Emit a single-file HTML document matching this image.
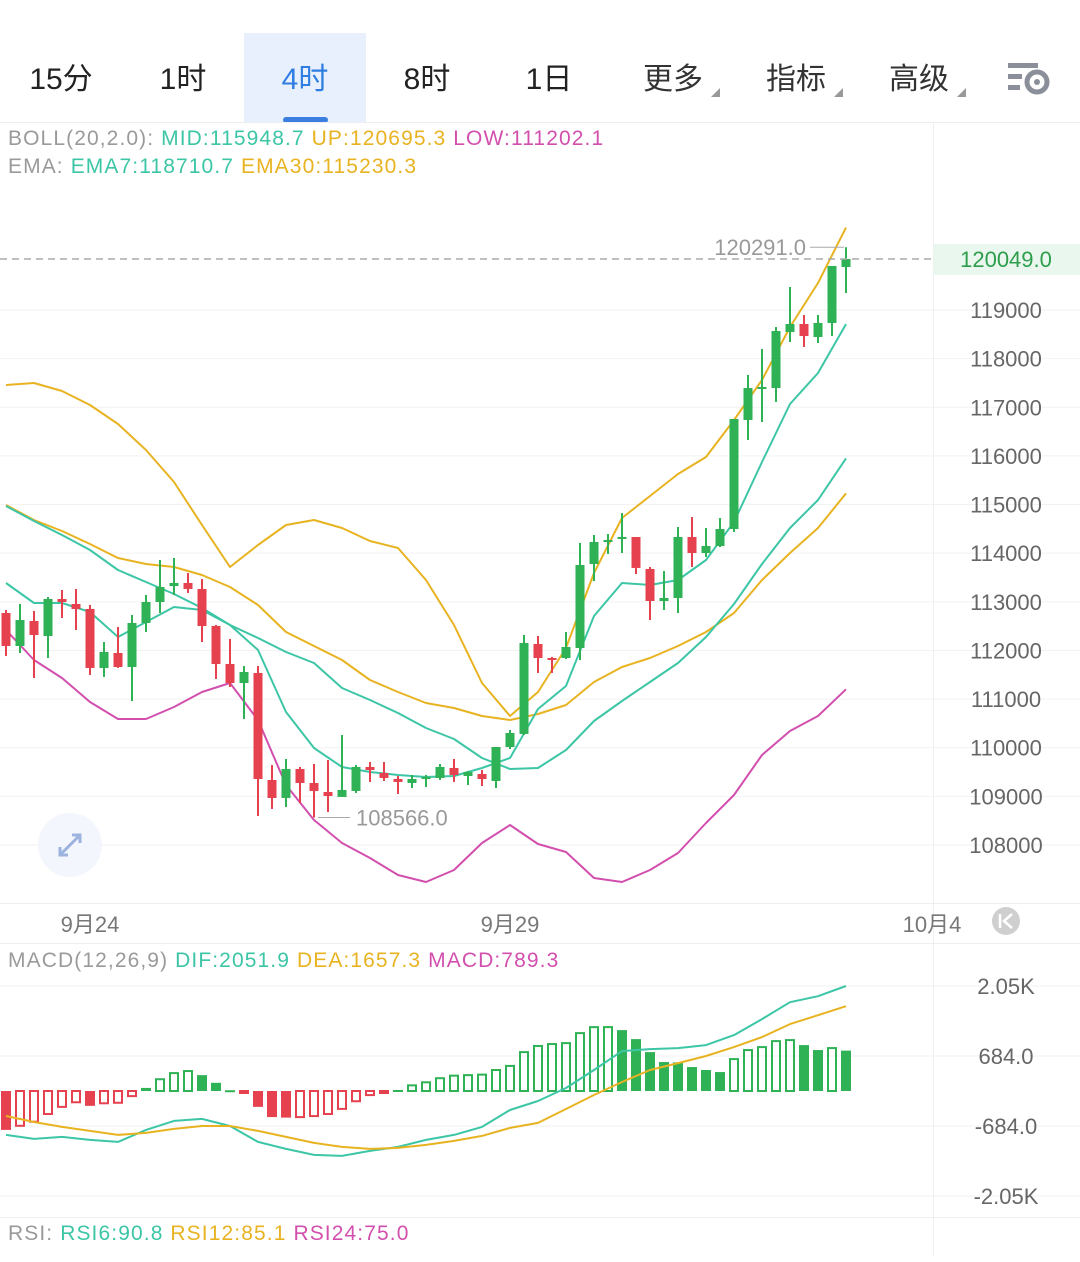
<!DOCTYPE html>
<html><head><meta charset="utf-8">
<style>
html,body{margin:0;padding:0;background:#fff;}
body{width:1080px;height:1257px;overflow:hidden;font-family:"Liberation Sans","Noto Sans CJK SC",sans-serif;}
svg text{font-family:"Liberation Sans","Noto Sans CJK SC",sans-serif;}
.lg{letter-spacing:1.1px;}
</style></head>
<body>
<svg id="chart" width="1080" height="1257" viewBox="0 0 1080 1257" xmlns="http://www.w3.org/2000/svg">
  <g>
    <rect x="244" y="33" width="122" height="89" fill="#e7f0fc"/>
    <rect x="283" y="117" width="45" height="6" rx="3" fill="#3a7fe0"/>
    <text x="61" y="89" font-size="30" fill="#222" text-anchor="middle">15分</text>
    <text x="183" y="89" font-size="30" fill="#222" text-anchor="middle">1时</text>
    <text x="305" y="89" font-size="30" fill="#2f7de1" text-anchor="middle">4时</text>
    <text x="427" y="89" font-size="30" fill="#222" text-anchor="middle">8时</text>
    <text x="549" y="89" font-size="30" fill="#222" text-anchor="middle">1日</text>
    <text x="673" y="89" font-size="30" fill="#333" text-anchor="middle">更多</text>
    <polygon points="720,88 720,97 711,97" fill="#999"/>
    <text x="796" y="89" font-size="30" fill="#333" text-anchor="middle">指标</text>
    <polygon points="843,88 843,97 834,97" fill="#999"/>
    <text x="919" y="89" font-size="30" fill="#333" text-anchor="middle">高级</text>
    <polygon points="966,88 966,97 957,97" fill="#999"/>
    <g>
      <rect x="1008" y="63" width="30" height="5" fill="#8a8f99"/>
      <rect x="1008" y="74" width="14" height="5" fill="#8a8f99"/>
      <rect x="1008" y="85" width="12" height="5" fill="#8a8f99"/>
      <circle cx="1037" cy="82" r="10" fill="none" stroke="#8a8f99" stroke-width="5"/>
      <circle cx="1037" cy="82" r="3" fill="#8a8f99"/>
    </g>
  </g>
  <line x1="0" y1="122.5" x2="1080" y2="122.5" stroke="#eee"/>
  <line x1="933.5" y1="122" x2="933.5" y2="1257" stroke="#f0f0f0"/>
  <text class="lg" x="8" y="145" font-size="21"><tspan fill="#9a9a9a">BOLL(20,2.0): </tspan><tspan fill="#3cc6a6">MID:115948.7 </tspan><tspan fill="#e8b321">UP:120695.3 </tspan><tspan fill="#d24fae">LOW:111202.1</tspan></text>
  <text class="lg" x="8" y="173" font-size="21"><tspan fill="#9a9a9a">EMA: </tspan><tspan fill="#3cc6a6">EMA7:118710.7 </tspan><tspan fill="#e8b321">EMA30:115230.3</tspan></text>

  <g id="price-grid"></g>
  <g id="price-axis"></g>
  <g id="lines"></g>
  <g id="candles"></g>

  <line id="curLine" x1="0" x2="933" stroke="#aaa" stroke-width="1.5" stroke-dasharray="7,5"/>
  <rect id="curBox" x="934" width="146" height="31" fill="#eaf7ee"/>
  <text id="curText" x="1006" font-size="22" fill="#2e9e4c" text-anchor="middle"></text>
  <g id="extremes"></g>

  <g>
    <circle cx="70" cy="845" r="32" fill="#f3f6fc"/>
    <path d="M60 855 L80 835 M72 835 L80 835 L80 843 M60 847 L60 855 L68 855" stroke="#9cb3df" stroke-width="3" fill="none"/>
  </g>

  <line x1="0" y1="903.5" x2="1080" y2="903.5" stroke="#eee"/>
  <text x="90" y="932" font-size="22" fill="#777" text-anchor="middle">9月24</text>
  <text x="510" y="932" font-size="22" fill="#777" text-anchor="middle">9月29</text>
  <text x="932" y="932" font-size="22" fill="#777" text-anchor="middle">10月4</text>
  <g>
    <circle cx="1006" cy="921" r="14" fill="#cfcfcf"/>
    <path d="M1000 914 L1000 928 M1012 914 L1004 921 L1012 928" stroke="#fff" stroke-width="2.5" fill="none"/>
  </g>
  <line x1="0" y1="943.5" x2="1080" y2="943.5" stroke="#eee"/>
  <text class="lg" x="8" y="967" font-size="21"><tspan fill="#9a9a9a">MACD(12,26,9) </tspan><tspan fill="#3cc6a6">DIF:2051.9 </tspan><tspan fill="#e8b321">DEA:1657.3 </tspan><tspan fill="#d24fae">MACD:789.3</tspan></text>
  <g id="macd-grid"></g>
  <g id="macd-bars"></g>
  <g id="macd-lines"></g>
  <line x1="0" y1="1217.5" x2="1080" y2="1217.5" stroke="#eee"/>
  <text class="lg" x="8" y="1240" font-size="21"><tspan fill="#9a9a9a">RSI: </tspan><tspan fill="#3cc6a6">RSI6:90.8 </tspan><tspan fill="#e8b321">RSI12:85.1 </tspan><tspan fill="#d24fae">RSI24:75.0</tspan></text>
</svg>
<script>
const candleOpen=[112770,112092,112606,112297,113058,112955,112853,111640,111948,111660,112565,112996,113325,113387,113264,112503,111722,111331,111537,109337,108967,109563,109275,109090,108988,109111,109604,109481,109357,109275,109378,109378,109584,109419,109460,109316,110015,110283,112133,111845,111845,112051,113778,114230,114292,114333,113675,113017,113079,114333,114004,114148,114497,116738,117376,117396,118548,118712,118445,118733,119884];
const candleClose=[112092,112626,112318,113058,112996,112853,111640,111968,111660,112565,112996,113305,113387,113264,112503,111722,111331,111557,109357,108967,109563,109275,109111,109008,109131,109604,109542,109378,109296,109357,109398,109604,109440,109501,109357,110015,110303,112154,111845,111825,112071,113757,114230,114271,114333,113696,113017,113079,114333,114004,114148,114497,116759,117396,117417,118568,118712,118465,118733,119905,120049];
const candleHigh=[112832,112955,112811,113099,113243,113264,112935,112174,112482,112729,113140,113860,113901,113593,113469,112524,112236,111681,111681,109645,109769,109604,109666,109748,110262,109645,109707,109707,109419,109440,109440,109666,109769,109522,109542,110015,110365,112318,112297,111866,112380,114210,114374,114395,114826,114333,113716,113634,114538,114744,114518,114724,116759,117664,118198,118650,119473,118897,118897,119905,120291];
const candleLow=[111886,111948,111434,111845,112668,112421,111496,111454,111640,110961,112380,112770,113140,113182,112174,111413,111249,110591,108597,108741,108782,108864,108566,108679,108987,109070,109296,109316,109049,109172,109193,109337,109296,109234,109213,109172,109974,110262,111537,111537,111825,111804,113428,113983,114004,113572,112626,112832,112770,113716,113922,114127,114436,116327,116697,117108,118342,118239,118322,118465,119350];
const bollUp=[117458,117499,117335,117047,116656,116122,115464,114580,113716,114168,114580,114682,114518,114251,114107,113449,112524,111331,110653,111146,112051,113593,114724,115176,115628,115978,116738,117561,118650,119555,120695];
const bollMid=[114970,114662,114374,114066,113654,113408,113161,112873,112524,112256,111968,111742,111228,110982,110714,110406,110180,109789,109563,109584,109954,110550,110961,111352,111742,112277,112955,113778,114518,115094,115949];
const bollLow=[112421,111804,111434,110940,110591,110591,110838,111146,111331,110570,109234,108514,108042,107733,107384,107240,107486,108042,108412,108021,107856,107322,107240,107486,107836,108453,109028,109851,110344,110653,111202];
const ema7=[113387,112976,112976,112791,112277,112585,112894,112832,112524,112010,110735,109995,109604,109501,109440,109398,109419,109584,109789,110797,111269,112709,113387,113346,113449,113860,114641,115875,117067,117705,118711];
const ema30=[114991,114682,114456,114189,113901,113778,113716,113552,113305,112935,112380,112092,111804,111393,111146,110920,110817,110653,110570,110694,110879,111352,111660,111845,112092,112380,112770,113449,114004,114518,115230];
const priceTicks=[119000,118000,117000,116000,115000,114000,113000,112000,111000,110000,109000,108000];
const macdHist=[-760,-680,-600,-450,-310,-220,-290,-240,-230,-100,60,230,350,390,310,160,15,-15,-310,-510,-520,-510,-490,-450,-350,-200,-80,-15,20,110,170,250,300,310,320,410,490,760,880,917,936,1131,1248,1249,1190,1014,760,566,560,468,410,370,624,800,858,975,995,897,800,839,789];
const macdDif=[-858,-936,-897,-956,-995,-761,-585,-546,-683,-995,-1131,-1248,-1268,-1170,-1092,-956,-858,-702,-371,-195,59,410,780,819,839,897,1092,1404,1736,1853,2052];
const macdDea=[-488,-605,-702,-780,-858,-819,-741,-683,-683,-780,-897,-1014,-1092,-1131,-1112,-1053,-975,-878,-722,-624,-351,-78,176,410,546,683,858,1053,1307,1482,1657];
const macdTicks=[2052,684,-684,-2052];
const macdTickLabels=["2.05K","684.0","-684.0","-2.05K"];
const currentPrice=120049;

const NS="http://www.w3.org/2000/svg";
const xScale=i=>6+14*i;
const yPrice=p=>310+(119000-p)*0.048636;
const yMacd=v=>1091-v/19.54;
function mk(tag,attrs,parent){const e=document.createElementNS(NS,tag);for(const k in attrs)e.setAttribute(k,attrs[k]);parent.appendChild(e);return e;}
const G=id=>document.getElementById(id);
const GREEN="#2fb155",RED="#e5414f";

priceTicks.forEach(t=>{
  const y=yPrice(t);
  const l=mk('line',{x1:0,x2:1080,y1:y,y2:y,stroke:'#f2f2f2'},G('price-grid'));
  
  
  const tx=mk('text',{x:1006,y:y+8,'font-size':22,fill:'#666','text-anchor':'middle'},G('price-axis'));
  tx.textContent=String(t);
  
  
});

function drawLine(arr,color,name,group,yf){
  const pts=arr.map((v,k)=>xScale(2*k)+','+yf(v).toFixed(1)).join(' ');
  const pl=mk('polyline',{points:pts,fill:'none',stroke:color,'stroke-width':2,'stroke-linejoin':'round'},G(group));
  
  
}
drawLine(bollUp,'#e8b321','boll-up-line','lines',yPrice);
drawLine(ema30,'#e8b321','ema30-line','lines',yPrice);
drawLine(bollMid,'#3cc6a6','boll-mid-line','lines',yPrice);
drawLine(ema7,'#3cc6a6','ema7-line','lines',yPrice);
drawLine(bollLow,'#d24fae','boll-low-line','lines',yPrice);

candleOpen.forEach((o,i)=>{
  const c=candleClose[i],h=candleHigh[i],l=candleLow[i];
  const col=c>=o?GREEN:RED;const x=xScale(i);
  const g=mk('g',{},G('candles'));
  
  
  mk('line',{x1:x,x2:x,y1:yPrice(h),y2:yPrice(l),stroke:col,'stroke-width':2},g);
  const top=yPrice(Math.max(o,c)),bot=yPrice(Math.min(o,c));
  mk('rect',{x:x-4.5,y:top,width:9,height:Math.max(2,bot-top),fill:col},g);
});

const cy=yPrice(currentPrice);
G('curLine').setAttribute('y1',cy);G('curLine').setAttribute('y2',cy);
G('curBox').setAttribute('y',cy-15);
G('curText').setAttribute('y',cy+8);
G('curText').textContent=currentPrice.toFixed(1);

let hiI=0,loI=0;
candleHigh.forEach((v,i)=>{if(v>candleHigh[hiI])hiI=i;});
candleLow.forEach((v,i)=>{if(v<candleLow[loI])loI=i;});
{
  const y=yPrice(candleHigh[hiI]),x=xScale(hiI);
  const ln=mk('line',{x1:x-36,x2:x-2,y1:y,y2:y,stroke:'#aaa'},G('extremes'));
  
  
  const t=mk('text',{x:x-40,y:y+8,'font-size':22,fill:'#999','text-anchor':'end'},G('extremes'));
  t.textContent=candleHigh[hiI].toFixed(1);
  
  
  const y2=yPrice(candleLow[loI]),x2=xScale(loI);
  const ln2=mk('line',{x1:x2+4,x2:x2+36,y1:y2,y2:y2,stroke:'#aaa'},G('extremes'));
  
  
  const t2=mk('text',{x:x2+42,y:y2+8,'font-size':22,fill:'#999'},G('extremes'));
  t2.textContent=candleLow[loI].toFixed(1);
  
  
}

macdTicks.forEach((t,i)=>{
  const y=yMacd(t);
  const l=mk('line',{x1:0,x2:1080,y1:y,y2:y,stroke:'#f2f2f2'},G('macd-grid'));
  
  
  const tx=mk('text',{x:1006,y:y+8,'font-size':22,fill:'#666','text-anchor':'middle'},G('macd-grid'));
  tx.textContent=macdTickLabels[i];
  
  
});
macdHist.forEach((v,i)=>{
  const prev=i>0?macdHist[i-1]:v;
  const col=v>=0?GREEN:RED;
  const growing=Math.abs(v)>Math.abs(prev)&&(v*prev>0);
  const hollow=(i===0)?false:(v>=0?growing:!growing);
  const y0=yMacd(0),y1=yMacd(v);
  const top=Math.min(y0,y1),hgt=Math.max(2,Math.abs(y1-y0));
  const x=xScale(i);
  const r=hollow?mk('rect',{x:x-4,y:top,width:8,height:hgt,fill:'none',stroke:col,'stroke-width':2},G('macd-bars')):mk('rect',{x:x-5,y:top,width:10,height:hgt,fill:col},G('macd-bars'));
  
  
});
drawLine(macdDif,'#3cc6a6','dif-line','macd-lines',yMacd);
drawLine(macdDea,'#e8b321','dea-line','macd-lines',yMacd);
</script>
</body></html>
